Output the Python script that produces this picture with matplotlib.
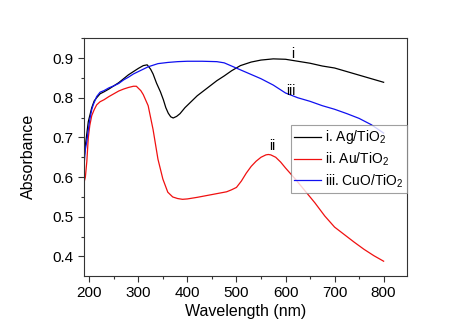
import matplotlib
matplotlib.use("Agg")
import matplotlib.pyplot as plt
from matplotlib.ticker import MultipleLocator

plt.rcParams['font.family'] = ['Liberation Sans', 'DejaVu Sans']
plt.rcParams['mathtext.default'] = 'regular'

# UV-vis absorbance spectra (wavelength in nm)
wl_ag = [190, 192, 195, 198, 201, 205, 210, 215, 222, 230, 240, 250, 260, 270,
         280, 290, 300, 310, 318, 325, 330, 337, 345, 351, 356, 361, 366, 371,
         378, 385, 395, 405, 420, 440, 460, 475, 490, 508, 530, 550, 575, 600,
         625, 650, 675, 700, 725, 750, 775, 800]
abs_ag = [0.655, 0.68, 0.71, 0.74, 0.755, 0.775, 0.792, 0.80, 0.81, 0.815, 0.822,
          0.83, 0.838, 0.848, 0.858, 0.866, 0.874, 0.881, 0.883, 0.872, 0.86,
          0.837, 0.815, 0.795, 0.775, 0.761, 0.752, 0.749, 0.753, 0.76, 0.775,
          0.787, 0.805, 0.824, 0.843, 0.855, 0.868, 0.881, 0.89, 0.895, 0.898,
          0.897, 0.892, 0.887, 0.88, 0.875, 0.866, 0.857, 0.848, 0.839]

wl_au = [190, 192, 195, 198, 201, 205, 210, 215, 222, 230, 240, 250, 260, 270,
         280, 290, 296, 300, 305, 310, 320, 330, 340, 350, 360, 370, 380, 390,
         400, 420, 450, 480, 490, 500, 510, 520, 530, 540, 550, 560, 565, 570,
         580, 590, 600, 620, 640, 660, 680, 700, 720, 740, 760, 780, 800]
abs_au = [0.59, 0.60, 0.64, 0.70, 0.73, 0.755, 0.77, 0.782, 0.79, 0.795, 0.803,
          0.81, 0.817, 0.822, 0.826, 0.829, 0.829, 0.824, 0.818, 0.808, 0.78,
          0.72, 0.645, 0.595, 0.562, 0.55, 0.546, 0.544, 0.545, 0.549, 0.556,
          0.563, 0.568, 0.574, 0.59, 0.61, 0.627, 0.64, 0.65, 0.656, 0.657,
          0.656, 0.65, 0.638, 0.623, 0.595, 0.565, 0.535, 0.502, 0.474, 0.455,
          0.436, 0.418, 0.402, 0.388]

wl_cuo = [190, 192, 195, 198, 201, 205, 208, 215, 222, 230, 240, 250, 260, 270,
          280, 290, 300, 310, 320, 330, 340, 360, 380, 400, 430, 460, 475, 490,
          505, 520, 550, 575, 600, 625, 650, 675, 700, 725, 750, 775, 800]
abs_cuo = [0.64, 0.67, 0.69, 0.72, 0.745, 0.77, 0.782, 0.803, 0.814, 0.818,
           0.825, 0.83, 0.836, 0.845, 0.852, 0.86, 0.866, 0.872, 0.878, 0.882,
           0.886, 0.889, 0.891, 0.892, 0.892, 0.891, 0.888, 0.88, 0.872, 0.864,
           0.848, 0.832, 0.812, 0.80, 0.791, 0.78, 0.771, 0.76, 0.748, 0.732,
           0.711]

fig = plt.figure(figsize=(4.74, 3.32), dpi=100)
ax = fig.add_axes([0.177, 0.169, 0.682, 0.717])

ax.plot(wl_ag, abs_ag, color='black', lw=0.9, label='i. Ag/TiO$_2$')
ax.plot(wl_au, abs_au, color='#f01010', lw=0.9, label='ii. Au/TiO$_2$')
ax.plot(wl_cuo, abs_cuo, color='#1010f0', lw=0.9, label='iii. CuO/TiO$_2$')

# curve labels
ax.text(614, 0.911, 'i', fontsize=10, ha='center', va='center')
ax.text(572, 0.661, 'ii', fontsize=10, ha='center', va='bottom')
ax.text(610, 0.816, 'iii', fontsize=10, ha='center', va='center')

ax.set_xlim(189, 848)
ax.set_ylim(0.351, 0.951)
ax.xaxis.set_major_locator(MultipleLocator(100))
ax.xaxis.set_minor_locator(MultipleLocator(50))
ax.yaxis.set_major_locator(MultipleLocator(0.1))
ax.yaxis.set_minor_locator(MultipleLocator(0.05))
ax.tick_params(which='both', direction='out', top=False, right=False,
               labelsize=11, width=0.8, color='#333333')
ax.tick_params(which='major', length=4)
ax.tick_params(which='minor', length=2)
for sp in ax.spines.values():
    sp.set_color('#333333')
    sp.set_linewidth(0.8)

ax.set_xlabel('Wavelength (nm)', fontsize=11.5, labelpad=3)
ax.set_ylabel('Absorbance', fontsize=11.5, labelpad=12)

leg = ax.legend(loc='upper right', bbox_to_anchor=(1.0, 0.634), fontsize=10,
                frameon=True, fancybox=False, edgecolor='#888888',
                handlelength=1.9, handletextpad=0.3, borderpad=0.25,
                labelspacing=0.3, borderaxespad=0)
leg.get_frame().set_linewidth(0.8)

fig.savefig('out.png', dpi=100)
